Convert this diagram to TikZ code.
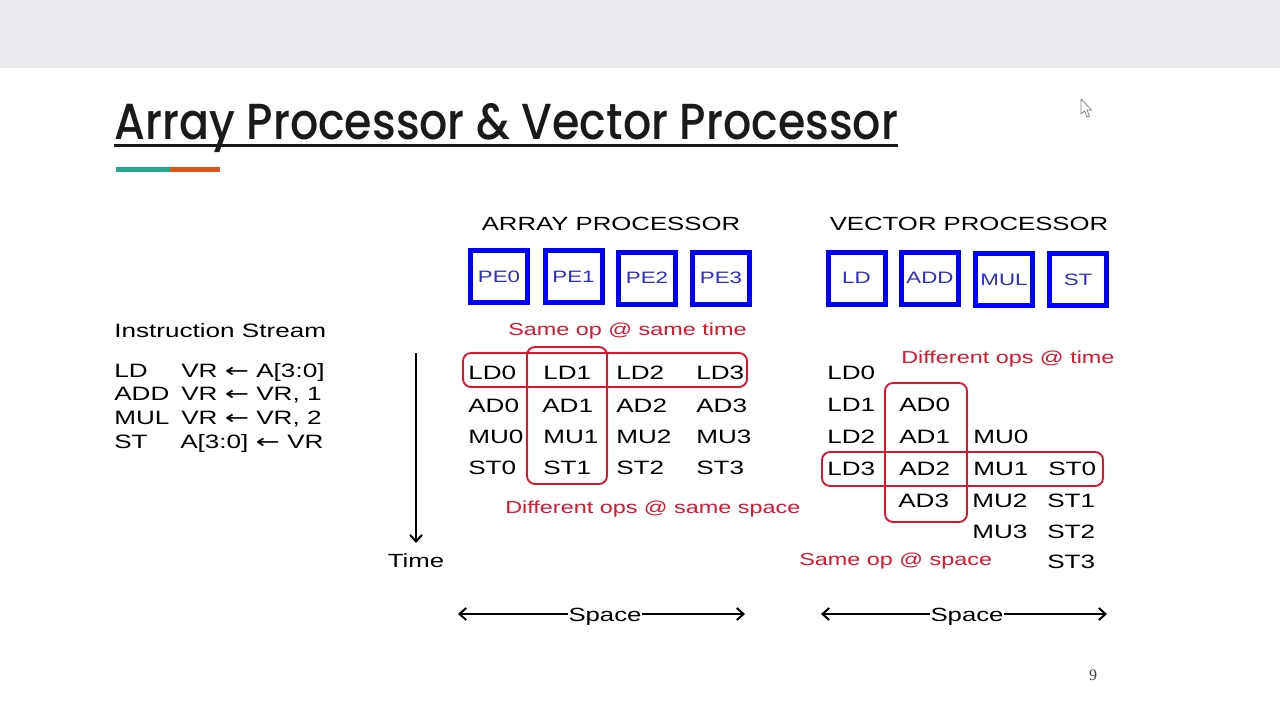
\documentclass[tikz,border=0pt]{standalone}
\usepackage{fontspec}
\usetikzlibrary{arrows.meta}
\newfontfamily\arialx{Liberation Sans}[FakeStretch=1.35]
\newfontfamily\arrowx{DejaVu Sans}[FakeStretch=1.5]
\IfFontExistsTF{Poppins Medium}{\newfontfamily\titlefont{Poppins Medium}}{\newfontfamily\titlefont{Poppins}[FakeBold=0.8]}
\newfontfamily\pagefont{Liberation Serif}
\newcommand\larr{{\arrowx\char"2190}}
\definecolor{topbar}{RGB}{232,234,237}
\definecolor{titlec}{RGB}{26,26,26}
\definecolor{teal}{RGB}{38,166,138}
\definecolor{orangeacc}{RGB}{224,82,27}
\definecolor{myred}{RGB}{218,22,48}
\definecolor{pelabel}{RGB}{45,45,200}
\definecolor{pagec}{RGB}{60,60,60}
\tikzset{
  txt/.style={font=\arialx\fontsize{14.5}{16}\selectfont, anchor=base west, inner sep=0pt, text=black},
  hdr/.style={font=\arialx\fontsize{14.3}{16}\selectfont, anchor=base, inner sep=0pt, text=black},
  rtxt/.style={font=\arialx\fontsize{13.0}{15}\selectfont, anchor=base west, inner sep=0pt, text=myred},
  pebox/.style={draw=blue, line width=3.75pt, minimum width=42.75pt, minimum height=39pt, inner sep=0pt,
     font=\arialx\fontsize{12.4}{14}\selectfont, text=pelabel},
  redbox/.style={draw=myred, line width=1.4pt, rounded corners=6pt},
  axarrow/.style={line width=1.5pt, -{Straight Barb[length=5pt,width=9pt,line width=1.5pt]}},
}
\begin{document}
\begin{tikzpicture}[x=0.75pt,y=-0.75pt]
\useasboundingbox (0,0) rectangle (1280,720);
\fill[white] (0,0) rectangle (1280,720);
\fill[topbar] (0,0) rectangle (1280,68);

% title
\node[anchor=base west, inner sep=0pt, text=titlec] (title) at (114,140) {\resizebox{588pt}{27pt}{\titlefont\fontsize{39}{40}\selectfont Array Processor \& Vector Processor}};
\draw[titlec, line width=2.25pt] (114,146) -- (898,146);
\fill[teal] (116,167) rectangle (170,172);
\fill[orangeacc] (170,167) rectangle (220,172);

% mouse cursor
\draw[gray, fill=white, line width=0.6pt, line join=round] (1081,99) -- (1081,114) -- (1084.5,111) -- (1087,117) -- (1089.5,116) -- (1087,110) -- (1091.5,110) -- cycle;

% instruction stream
\node[txt] (istream) at (114,337) {Instruction Stream};
\node[txt] (i0m) at (114,377) {LD};
\node[txt] (i0o) at (181,377) {VR \larr\ A[3:0]};
\node[txt] (i1m) at (114,400) {ADD};
\node[txt] (i1o) at (181,400) {VR \larr\ VR, 1};
\node[txt] (i2m) at (114,424) {MUL};
\node[txt] (i2o) at (181,424) {VR \larr\ VR, 2};
\node[txt] (i3m) at (114,448) {ST};
\node[txt] (i3o) at (180,448) {A[3:0] \larr\ VR};

% time axis
\coordinate (ttop) at (416,353);
\coordinate (tbot) at (416,543);
\draw[axarrow] (ttop) -- (tbot);
\node[hdr] (time) at (416,567) {Time};

% headers
\node[hdr] (ahdr) at (611,231) {ARRAY PROCESSOR};
\node[hdr] (vhdr) at (969,231) {VECTOR PROCESSOR};

% PE boxes
\node[pebox] (pe0) at (499,276.5) {PE0};
\node[pebox] (pe1) at (573.5,276.5) {PE1};
\node[pebox] (pe2) at (647,278) {PE2};
\node[pebox] (pe3) at (721,278) {PE3};
\node[pebox] (vld) at (856.5,278) {LD};
\node[pebox] (vadd) at (930,278) {ADD};
\node[pebox] (vmul) at (1004,279.5) {MUL};
\node[pebox] (vst) at (1078,279.5) {ST};

% array grid
\node[txt] (a00) at (468,379) {LD0};
\node[txt] (a01) at (543,379) {LD1};
\node[txt] (a02) at (616,379) {LD2};
\node[txt] (a03) at (696,379) {LD3};
\node[txt] (a10) at (468,412) {AD0};
\node[txt] (a11) at (542,412) {AD1};
\node[txt] (a12) at (616,412) {AD2};
\node[txt] (a13) at (696,412) {AD3};
\node[txt] (a20) at (468,443) {MU0};
\node[txt] (a21) at (543,443) {MU1};
\node[txt] (a22) at (616,443) {MU2};
\node[txt] (a23) at (696,443) {MU3};
\node[txt] (a30) at (468,474) {ST0};
\node[txt] (a31) at (543,474) {ST1};
\node[txt] (a32) at (616,474) {ST2};
\node[txt] (a33) at (696,474) {ST3};
\draw[redbox] (463,353) rectangle (747,387);
\draw[redbox] (527,347) rectangle (607,484);
\node[rtxt] (asame) at (508,335) {Same op @ same time};
\node[rtxt] (adiff) at (505,513) {Different ops @ same space};

% vector grid
\node[txt] (v0) at (827,379) {LD0};
\node[txt] (v1) at (827,411) {LD1};
\node[txt] (v2) at (827,443) {LD2};
\node[txt] (v3) at (827,475) {LD3};
\node[txt] (w1) at (899,411) {AD0};
\node[txt] (w2) at (899,443) {AD1};
\node[txt] (w3) at (899,475) {AD2};
\node[txt] (w4) at (898,507) {AD3};
\node[txt] (m2) at (973,443) {MU0};
\node[txt] (m3) at (973,475) {MU1};
\node[txt] (m4) at (972,507) {MU2};
\node[txt] (m5) at (972,538) {MU3};
\node[txt] (s3) at (1048,475) {ST0};
\node[txt] (s4) at (1047,507) {ST1};
\node[txt] (s5) at (1047,538) {ST2};
\node[txt] (s6) at (1047,568) {ST3};
\draw[redbox] (885,383) rectangle (967,522);
\draw[redbox] (822,452) rectangle (1103,486);
\node[rtxt] (vdiff) at (901,363) {Different ops @ time};
\node[rtxt] (vsame) at (799,565) {Same op @ space};

% space axes
\node[hdr] (sp1) at (605,621) {Space};
\coordinate (sl1) at (458,614);
\coordinate (sr1) at (745,614);
\draw[axarrow] (sl1 -| sp1.west) -- (sl1);
\draw[axarrow] (sr1 -| sp1.east) -- (sr1);
\node[hdr] (sp2) at (967,621) {Space};
\coordinate (sl2) at (821,614);
\coordinate (sr2) at (1107,614);
\draw[axarrow] (sl2 -| sp2.west) -- (sl2);
\draw[axarrow] (sr2 -| sp2.east) -- (sr2);

% page number
\node[anchor=base, inner sep=0pt, text=pagec, font=\pagefont\fontsize{12}{14}\selectfont] (pnum) at (1093,680) {9};
\end{tikzpicture}
\end{document}
